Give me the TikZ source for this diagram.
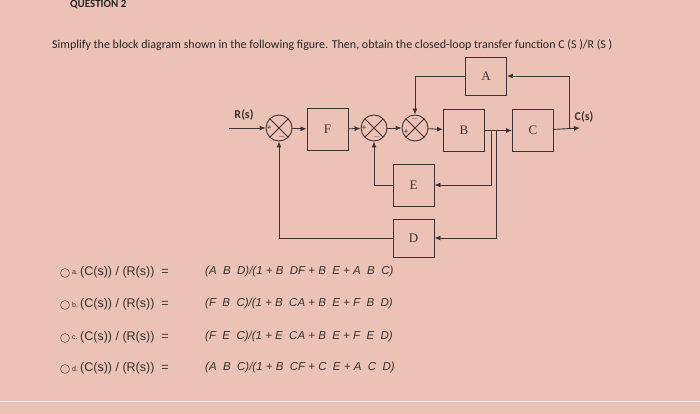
\documentclass[tikz,border=0pt]{standalone}
\usepackage{fontspec}
\setmainfont{Carlito}
\newfontfamily\blk{Liberation Serif}
\newfontfamily\lsans{Liberation Sans}
\usetikzlibrary{arrows.meta}
\definecolor{bg}{RGB}{236,194,182}
\definecolor{ink}{RGB}{60,52,52}
\begin{document}
\begin{tikzpicture}[x=1pt,y=-1pt,
  blk/.style={draw=ink,line width=0.9pt,minimum width=41pt,minimum height=42pt,font=\blk\fontsize{13}{13}\selectfont,text=ink},
  sum/.style={draw=ink,line width=0.9pt,circle,minimum size=26pt,inner sep=0pt,path picture={\draw[ink,line width=0.8pt] (path picture bounding box.south west)--(path picture bounding box.north east) (path picture bounding box.north west)--(path picture bounding box.south east);}},
  sg/.style={font=\fontsize{9}{9}\selectfont,text=ink,inner sep=0pt},
  ln/.style={draw=ink,line width=0.9pt},
  ar/.style={ln,-{Latex[length=6pt,width=5pt]}},
  txt/.style={font=\fontsize{12}{12}\selectfont,text=black!85,anchor=west,inner sep=0pt},
  opt/.style={font=\lsans\fontsize{12.5}{13}\selectfont,text=black!80,anchor=west,inner sep=0pt}]
\fill[bg] (0,0) rectangle (700,414);
\useasboundingbox (0,0) rectangle (700,414);
\draw[white!85!bg,line width=1pt] (0,401)--(700,401);
\node[txt,font=\bfseries\fontsize{11}{11}\selectfont] (q) at (70,5) {QUESTION 2};
\node[txt] (t) at (52,45) {Simplify the block diagram shown in the following figure. Then, obtain the closed-loop transfer function C (S )/R (S )};
% blocks
\node[sum] (s1) at (279,128) {};
\node[blk] (F) at (327.5,129.5) {F};
\node[sum] (s2) at (374,128) {};
\node[sum] (s3) at (415,128) {};
\node[blk] (B) at (464,130.5) {B};
\node[blk] (C) at (533,130.5) {C};
\node[blk,minimum height=38pt] (A) at (486,76) {A};
\node[blk] (E) at (413.5,185) {E};
\node[blk,minimum height=38pt] (D) at (413.5,238) {D};
\node[sg] at (269,128) {+}; \node[sg] at (282,137) {$-$};
\node[sg] at (364,128) {+}; \node[sg] at (377,137) {$-$};
\node[sg] at (406,132) {+}; \node[sg] at (415,119) {$-$};
\coordinate (rin) at (229,128);
\coordinate (cout) at (580,128);
\node[font=\bfseries\fontsize{12}{12}\selectfont,text=ink] (rl) at (244,115) {R(s)};
\node[font=\bfseries\fontsize{12}{12}\selectfont,text=ink] (cl) at (584,117) {C(s)};
\draw[ar] (rin)--(s1);
\draw[ar] (s1)--(F);
\draw[ar] (F)--(s2);
\draw[ar] (s2)--(s3);
\draw[ar] (s3)--(B);
\draw[ar] (B)--(C);
\draw[ar] (C)--(cout);
\draw[ar] (569,128)|-(A.east);
\draw[ar] (A.west)-|(s3.north);
\draw[ar] (491,130)|-(E.east);
\draw[ar] (496,130)|-(D.east);
\draw[ar] (E.west)-|(s2.south);
\draw[ar] (D.west)-|(s1.south);
% options
\foreach \y/\l/\f in {272/a/{(A\ \ B\ \ D)/(1 + B\ \ DF + B\ \ E + A\ \ B\ \ C)},304/b/{(F\ \ B\ \ C)/(1 + B\ \ CA + B\ \ E + F\ \ B\ \ D)},337/c/{(F\ \ E\ \ C)/(1 + E\ \ CA + B\ \ E + F\ \ E\ \ D)},368/d/{(A\ \ B\ \ C)/(1 + B\ \ CF + C\ \ E + A\ \ C\ \ D)}}{
  \draw[black!60,line width=0.6pt] (65,\y+1) circle (4.5pt);
  \node[opt,font=\lsans\fontsize{7}{7}\selectfont] at (72,\y+1) {\l.};
  \node[opt] at (80,\y) {(C(s)) / (R(s)) \ =};
  \node[opt,font=\lsans\itshape\fontsize{11.5}{12}\selectfont] at (205,\y) {\f};
}
\end{tikzpicture}
\end{document}
